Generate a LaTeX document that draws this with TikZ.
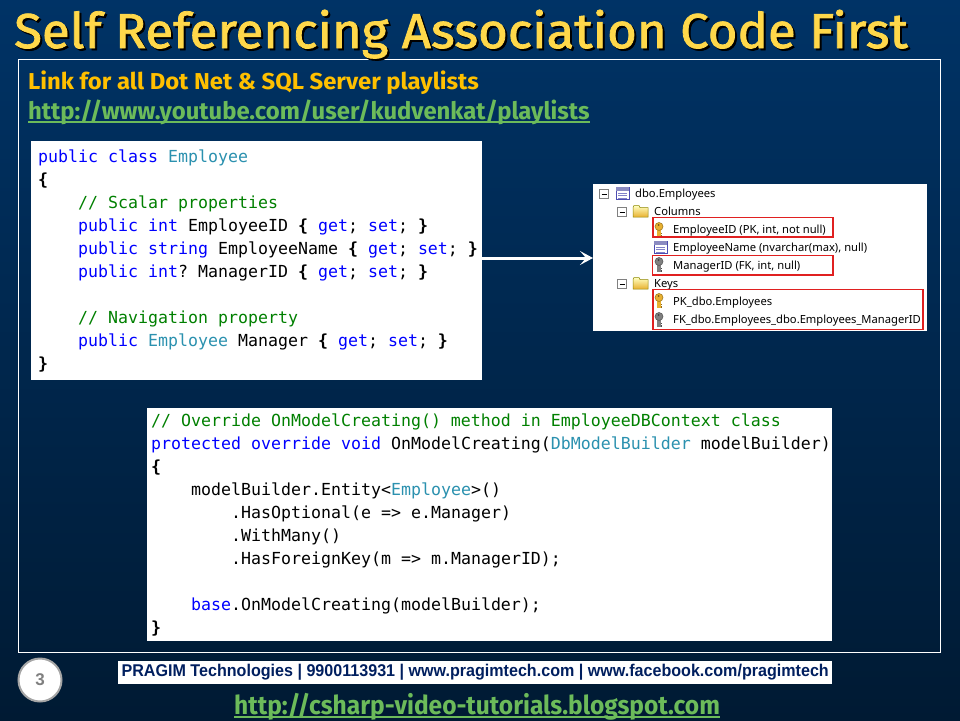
\documentclass[tikz,border=0pt]{standalone}
\usepackage{fontspec}
\usetikzlibrary{arrows.meta, positioning}
\setmainfont{Liberation Sans}
\setmonofont[WordSpace={1,0,0}]{DejaVu Sans Mono}
\newfontfamily\titlefont[FakeStretch=1.04, FakeBold=1.6]{Fira Sans}
\newfontfamily\labelfont[FakeStretch=1.037]{Fira Sans}
\newfontfamily\linkfont[FakeStretch=0.994]{Fira Sans}
\newfontfamily\blogfont[FakeStretch=0.943]{Fira Sans}
\newfontfamily\pragimfont[FakeStretch=0.947]{Liberation Sans}
\newfontfamily\panefont{Noto Sans}
\definecolor{slidetop}{HTML}{003366}
\definecolor{slidebottom}{HTML}{001A33}
\definecolor{titlegold}{HTML}{FFD84A}
\definecolor{linkgold}{HTML}{FFC000}
\definecolor{linkgreen}{HTML}{6CBB5A}
\definecolor{kwblue}{HTML}{0000FF}
\definecolor{typeteal}{HTML}{2B91AF}
\definecolor{commentgreen}{HTML}{008000}
\definecolor{keygold}{HTML}{E8B030}
\definecolor{keygrey}{HTML}{808080}
\definecolor{pragimnavy}{HTML}{001F5F}
\definecolor{paneRed}{HTML}{E02020}
\newcommand{\kw}[1]{\textcolor{kwblue}{#1}}
\newcommand{\ty}[1]{\textcolor{typeteal}{#1}}
\newcommand{\cm}[1]{\textcolor{commentgreen}{#1}}
\newcommand{\tabin}[1]{\hspace*{#1pt}}
\newcommand{\dropshadow}[1]{\rlap{\hspace{2pt}\raisebox{-2pt}{\textcolor{black}{#1}}}#1}
\newcommand{\codestart}[1]{\leftskip=#1pt \spaceskip=\fontdimen2\font \xspaceskip=\fontdimen2\font}
\newcommand{\keyicon}[3]{%
  \fill[#3] (#1-1.8,#2) rectangle (#1+1.8,#2+10.5);
  \fill[#3!60!black] (#1+1.8,#2+6) rectangle (#1+3.2,#2+7.5);
  \fill[#3!60!black] (#1+1.8,#2+8.5) rectangle (#1+3.2,#2+10);
  \draw[#3!70!black, fill=#3, line width=.6pt] (#1,#2) circle (4);
  \fill[#3!50!black] (#1-.3,#2-1.5) circle (1);
}
\newcommand{\minusbox}[2]{%
  \draw[gray, fill=white, line width=.6pt] (#1-4.5,#2-4.5) rectangle (#1+4.5,#2+4.5);
  \draw[black, line width=.7pt] (#1-2.5,#2) -- (#1+2.5,#2);
}
\newcommand{\foldericon}[2]{%
  \draw[olive, top color=yellow!25, bottom color=keygold, line width=.5pt] (#1,#2-3.5) -- (#1+1,#2-5.5) -- (#1+6,#2-5.5) -- (#1+7,#2-3.5) -- (#1+15,#2-3.5) -- (#1+15,#2+6) -- (#1,#2+6) -- cycle;
}
\newcommand{\gridicon}[2]{%
  \draw[blue!40!gray, fill=white, line width=.7pt] (#1,#2-6) rectangle (#1+13,#2+6);
  \fill[blue!30!gray!70] (#1,#2-6) rectangle (#1+13,#2-2.5);
  \draw[blue!40!gray!70, line width=.5pt] (#1+2,#2) -- (#1+11,#2) (#1+2,#2+2.5) -- (#1+11,#2+2.5) (#1+2,#2+5) -- (#1+11,#2+5);
}
\tikzstyle{slidetext}=[inner sep=0pt, anchor=base west]
\tikzstyle{titletext}=[slidetext, font=\titlefont\fontsize{49}{49}\selectfont]
\tikzstyle{linktext}=[slidetext, font=\linkfont\fontsize{24}{24}\selectfont\bfseries]
\tikzstyle{linkline}=[linkgreen, line width=1.4pt]
\tikzstyle{codebox}=[fill=white, inner xsep=0pt, inner ysep=0pt, anchor=north west, align=left, font=\ttfamily\fontsize{16.6}{23}\selectfont]
\tikzstyle{panetext}=[slidetext, font=\panefont\fontsize{11.2}{12}\selectfont]
\tikzstyle{redbox}=[draw=paneRed, line width=1.2pt]

\begin{document}
\begin{tikzpicture}[x=1pt, y=-1pt]
  \useasboundingbox (0,0) rectangle (960,720);
  \shade[top color=slidetop, bottom color=slidebottom] (0,0) rectangle (960,720);
  \draw[white, line width=1pt] (18.5,59.5) rectangle (940.5,652.5);

  % headings
  \node[titletext, titlegold] (title) at (14,48) {\dropshadow{Self Referencing Association Code First}};
  \node[linktext, linkgold, font=\labelfont\fontsize{23}{23}\selectfont\bfseries] (playlabel) at (28,89) {Link for all Dot Net \& SQL Server playlists};
  \node[linktext, linkgreen] (playurl) at (28,119) {http://www.youtube.com/user/kudvenkat/playlists};
  \draw[linkline] ([yshift=-3pt]playurl.base west) -- ([yshift=-3pt]playurl.base east);

  % code
  \node[codebox, text width=451pt, minimum height=239pt] (classcode) at (31,141) {\codestart{7}
    \kw{public} \kw{class} \ty{Employee}\\
    \textbf{\{}\\
    \tabin{40}\cm{// Scalar properties}\\
    \tabin{40}\kw{public} \kw{int} EmployeeID \textbf{\{} \kw{get}; \kw{set}; \textbf{\}}\\
    \tabin{40}\kw{public} \kw{string} EmployeeName \textbf{\{} \kw{get}; \kw{set}; \textbf{\}}\\
    \tabin{40}\kw{public} \kw{int}? ManagerID \textbf{\{} \kw{get}; \kw{set}; \textbf{\}}\\
    ~\\
    \tabin{40}\cm{// Navigation property}\\
    \tabin{40}\kw{public} \ty{Employee} Manager \textbf{\{} \kw{get}; \kw{set}; \textbf{\}}\\
    \textbf{\}}\par\vspace*{4pt}};
  \node[codebox, text width=685pt, minimum height=233pt] (overridecode) at (147,408) {\codestart{4}
    \cm{// Override OnModelCreating() method in EmployeeDBContext class}\\
    \kw{protected} \kw{override} \kw{void} OnModelCreating(\ty{DbModelBuilder} modelBuilder)\\
    \textbf{\{}\\
    \tabin{40}modelBuilder.Entity<\ty{Employee}>()\\
    \tabin{80}.HasOptional(e => e.Manager)\\
    \tabin{80}.WithMany()\\
    \tabin{80}.HasForeignKey(m => m.ManagerID);\\
    ~\\
    \tabin{40}\kw{base}.OnModelCreating(modelBuilder);\\
    \textbf{\}}\par\vspace*{4pt}};

  % table pane
  \node[fill=white, inner sep=0pt, anchor=north west, minimum width=334pt, minimum height=147pt] (pane) at (593,184) {};
  \path[->, >={Stealth[length=13pt, width=14pt, inset=6pt]}, white, line width=3pt] (classcode.east |- 0,258) edge (pane.west |- 0,258);
  \minusbox{604}{194}
  \gridicon{616}{193}
  \node[panetext] (tablename) at (635,197) {dbo.Employees};
  \minusbox{622}{212}
  \foldericon{633}{211}
  \node[panetext] (columns) at (654,215) {Columns};
  \keyicon{659}{226.5}{keygold}
  \node[panetext] (empid) at (673,233) {EmployeeID (PK, int, not null)};
  \gridicon{654}{247}
  \node[panetext] (empname) at (673,251) {EmployeeName (nvarchar(max), null)};
  \keyicon{659}{261.5}{keygrey}
  \node[panetext] (mgrid) at (673,269) {ManagerID (FK, int, null)};
  \minusbox{622}{284}
  \foldericon{633}{283}
  \node[panetext] (keys) at (654,287) {Keys};
  \keyicon{659}{297.5}{keygold}
  \node[panetext] (pkname) at (673,305) {PK\_dbo.Employees};
  \keyicon{659}{316.5}{keygrey}
  \node[panetext] (fkname) at (673,323) {FK\_dbo.Employees\_dbo.Employees\_ManagerID};
  \draw[redbox] (653,217.5) rectangle (833,237);
  \draw[redbox] (652.5,255.5) rectangle (833,275);
  \draw[redbox] (653,289.5) rectangle (923,329.5);

  % footer
  \node[circle, fill=white, draw=gray!70, line width=2pt, minimum size=43pt, inner sep=0pt, text=gray, font=\fontsize{17}{17}\selectfont\bfseries] (slidenum) at (40,680) {3};
  \node[fill=white, anchor=north west, minimum width=714pt, minimum height=23pt, inner sep=0pt, text=pragimnavy, font=\pragimfont\fontsize{17}{17}\selectfont\bfseries] (pragim) at (118,661) {PRAGIM Technologies | 9900113931 | www.pragimtech.com | www.facebook.com/pragimtech};
  \node[linktext, linkgreen, font=\blogfont\fontsize{26}{26}\selectfont\bfseries] (blogurl) at (234,714) {http://csharp-video-tutorials.blogspot.com};
  \draw[linkline] ([yshift=-3pt]blogurl.base west) -- ([yshift=-3pt]blogurl.base east);
\end{tikzpicture}
\end{document}
